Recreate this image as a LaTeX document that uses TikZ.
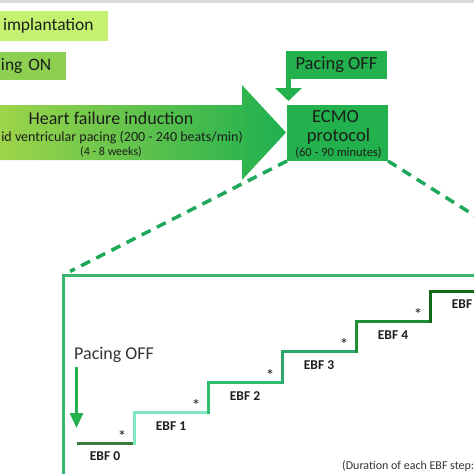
\documentclass[tikz,border=0pt]{standalone}
\usepackage{fontspec}
\setmainfont{Carlito}
\usetikzlibrary{arrows.meta,positioning,calc}
\definecolor{rule}{HTML}{D9D9D9}
\definecolor{limeBox}{HTML}{C4F170}
\definecolor{leafBox}{HTML}{8DCF50}
\definecolor{hfLeft}{HTML}{9ED449}
\definecolor{hfRight}{HTML}{1EB04F}
\definecolor{ecmoGreen}{HTML}{22B14C}
\definecolor{frameGreen}{HTML}{3AB56E}
\definecolor{dashGreen}{HTML}{1EA85B}
\definecolor{ebfA}{HTML}{3A7D3A}
\definecolor{ebfB}{HTML}{80E8C0}
\definecolor{ebfC}{HTML}{2FBE6E}
\definecolor{ebfD}{HTML}{2DA86A}
\definecolor{ebfE}{HTML}{1E8E32}
\definecolor{ebfF}{HTML}{12691C}
\definecolor{ink}{HTML}{1B1F1B}
\definecolor{inkGray}{HTML}{333333}

\begin{document}
\begin{tikzpicture}[x=1pt,y=-1pt,>=Stealth,
  fs/.style={font=\fontsize{#1}{#1}\selectfont},
  box/.style={inner sep=0pt,outer sep=0pt,text=ink,anchor=north west},
  tread/.style={line width=3pt},
  ebf/.style={font=\bfseries\fontsize{13.5}{14}\selectfont,text=ink},
  star/.style={fs=17,text=ink,anchor=base}]
\useasboundingbox (0,0) rectangle (474,474);
\fill[rule] (0,0) rectangle (474,2.5);
% --- phase boxes (cut at the left edge) ---
\node[box,fill=limeBox,fs=17.5,text width=102pt,inner xsep=3pt,minimum height=30pt,align=left] (implBox) at (0,11) {implantation};
\node[box,fill=leafBox,fs=17.5,text width=64pt,inner xsep=1pt,minimum height=28pt,align=left] (paceOn) at (0,52) {ing ON};
% --- heart failure induction arrow ---
\shade[left color=hfLeft,right color=hfRight] (0,105) -- (242,105) -- (242,85) -- (286,132.5) -- (242,180) -- (242,160) -- (0,160) -- cycle;
\node[fs=18,text=ink,anchor=base] (hfTitle) at (111,124) {Heart failure induction};
\node[fs=14,text=ink,anchor=base east,inner sep=0pt] (hfPacing) at (243,141.5) {id ventricular pacing (200 - 240 beats/min)};
\node[fs=12,text=ink,anchor=base] (hfWeeks) at (111,155.5) {(4 - 8 weeks)};
% --- pacing OFF callout and ECMO protocol ---
\node[box,fill=ecmoGreen,fs=18.5,minimum width=101pt,minimum height=28pt] (offBox) at (286,51) {Pacing OFF};
\node[box,fill=ecmoGreen,minimum width=101pt,minimum height=56pt] (ecmo) at (287,105) {};
\node[fs=18.5,text=ink,anchor=base] (ecmoA) at ($(ecmo.north)+(-2,17)$) {ECMO};
\node[fs=18.5,text=ink,anchor=base] (ecmoB) at ($(ecmo.north)+(1,36)$) {protocol};
\node[fs=12.5,text=ink,anchor=base] (ecmoC) at ($(ecmo.north)+(1,51.5)$) {(60 - 90 minutes)};
\draw[ecmoGreen,line width=5pt,-{Triangle[width=26pt,length=13pt]},shorten >=4pt] ($(offBox.south west)+(2.5,0)$) -- ($(ecmo.north west)+(1.5,0)$);
% --- zoomed frame ---
\node[draw=frameGreen,line width=3pt,outer sep=0pt,inner sep=0pt,minimum width=506pt,minimum height=250pt,anchor=north west] (zoomFrame) at (63,275) {};
\draw[dashGreen,line width=3.5pt,dash pattern=on 10pt off 7pt,shorten >=8pt] (ecmo.south west) -- (zoomFrame.north west);
\draw[dashGreen,line width=3.5pt,dash pattern=on 10pt off 7pt] (ecmo.south east) -- (zoomFrame.north east);
% --- EBF staircase ---
\coordinate (ebf0W) at (76.5,443);
\draw[tread,ebfA] (ebf0W) -- (134,443);
\node[ebf] (ebf0) at (105,456.5) {EBF 0};
\foreach \i/\col in {1/ebfB,2/ebfC,3/ebfD,4/ebfE,5/ebfF} {
  \pgfmathsetmacro\xs{134+74*(\i-1)}
  \pgfmathsetmacro\ylo{443-30.4*(\i-1)}
  \pgfmathsetmacro\yhi{443-30.4*\i}
  \draw[tread,\col] (\xs,\ylo+1.5) -- (\xs,\yhi) -- (\xs+74,\yhi);
  \node[star] (star\i) at (\xs-12,\ylo-1) {*};
  \node[ebf] (ebf\i) at (\xs+37,\yhi+13.5) {EBF \i};
}
% --- pacing OFF at EBF 0 ---
\node[fs=18,text=inkGray,anchor=base west,inner sep=0pt] (offLabel) at (74,359) {Pacing OFF};
\draw[ecmoGreen,line width=3pt,-{Triangle[width=13pt,length=15pt]},shorten <=4.5pt,shorten >=15pt] (ebf0W |- offLabel.south) -- (ebf0W);
\node[fs=12,text=inkGray,anchor=base west,inner sep=0pt] (durNote) at (342,469) {(Duration of each EBF step:};
\end{tikzpicture}
\end{document}
